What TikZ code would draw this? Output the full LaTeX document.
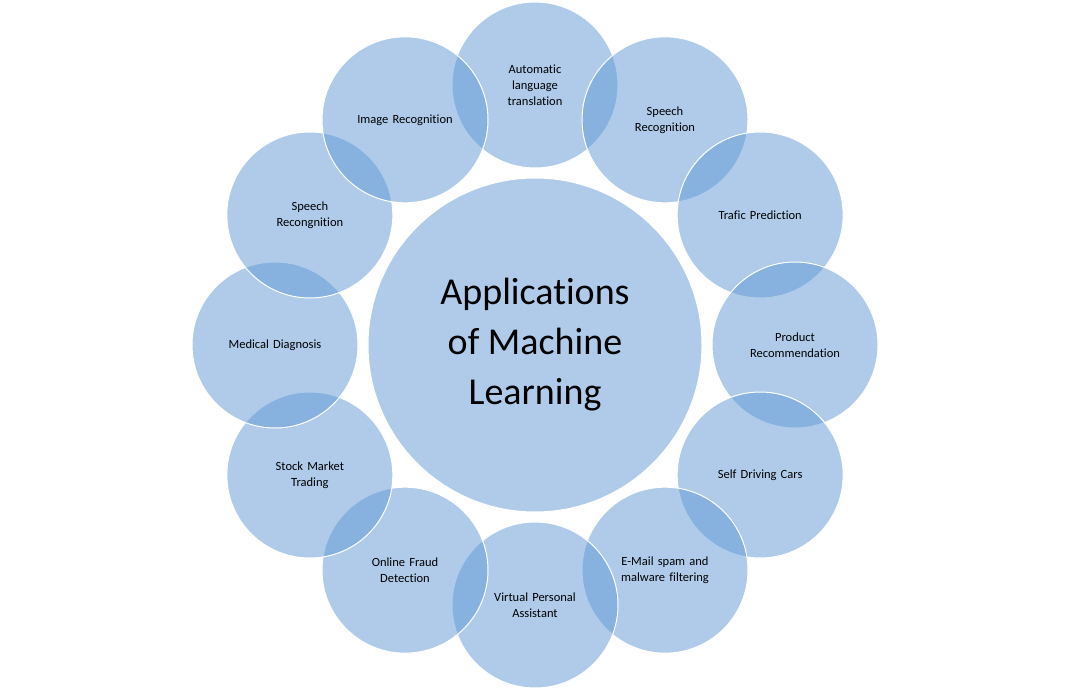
\documentclass[tikz,border=0pt]{standalone}
\usepackage{fontspec}
\setmainfont[Ligatures=NoCommon]{Carlito}
\definecolor{cfill}{RGB}{95,152,212}
\begin{document}
\begin{tikzpicture}[x=1pt,y=-1pt,
  bub/.style={circle,fill=cfill,fill opacity=0.5,draw=white,line width=1pt,minimum size=166pt,inner sep=0pt,text opacity=1,align=center,font=\fontsize{12.5}{16}\selectfont,text width=140pt},
  hub/.style={circle,fill=cfill,fill opacity=0.5,draw=white,line width=1pt,minimum size=334pt,inner sep=0pt,text opacity=1,align=center,font=\fontsize{38}{50}\selectfont}]
\useasboundingbox (0,0) rectangle (1071,690);
\node[hub] (c) at (535,345) {Applications\\of Machine\\Learning};
\foreach \a/\t [count=\i] in {
 90/{Automatic\\language\\translation},
 60/{Speech\\Recognition},
 30/{Trafic Prediction},
 0/{Product\\Recommendation},
 -30/{Self Driving Cars},
 -60/{E-Mail spam and\\malware filtering},
 -90/{Virtual Personal\\Assistant},
 -120/{Online Fraud\\Detection},
 -150/{Stock Market\\Trading},
 180/{Medical Diagnosis},
 150/{Speech\\Recongnition},
 120/{Image Recognition}}
 \node[bub] (b\i) at ({535+260*cos(\a)},{345-260*sin(\a)}) {\t};
\end{tikzpicture}
\end{document}
